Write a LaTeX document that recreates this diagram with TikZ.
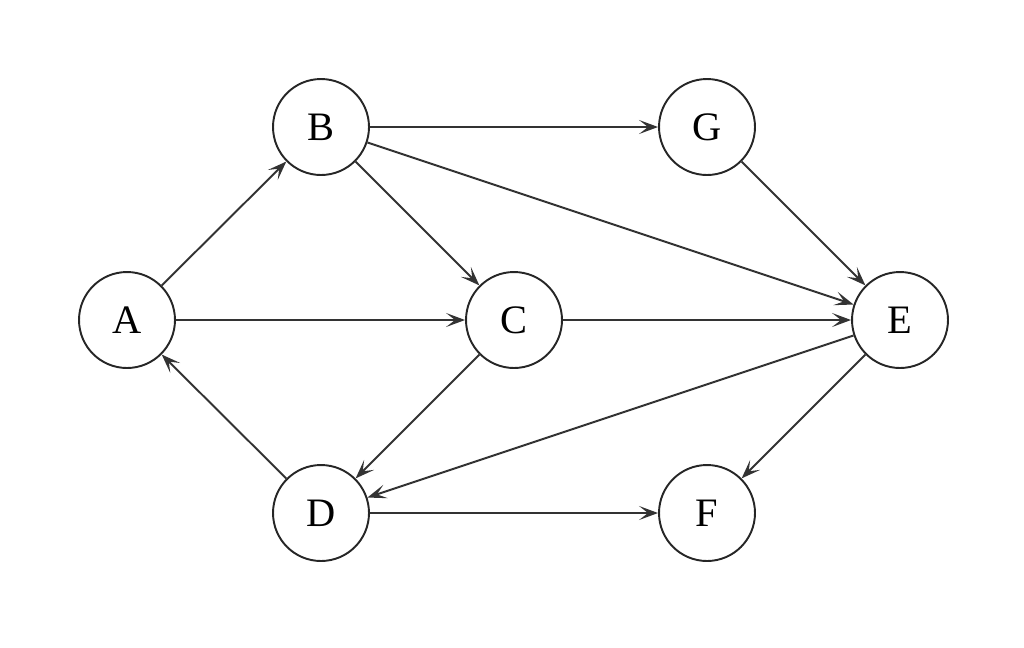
\documentclass[tikz,border=0pt]{standalone}
\usepackage{fontspec}
\setmainfont{Liberation Serif}
\usetikzlibrary{arrows.meta}
\begin{document}
\begin{tikzpicture}[x=0.02cm,y=-0.02cm,
  vertex/.style={circle,draw=black!85,line width=1.1pt,minimum size=1.92cm,inner sep=0pt,font=\fontsize{23}{27}\selectfont},
  edge/.style={draw=black!80,line width=1.1pt,-{Stealth[length=3.8mm,width=2.8mm,inset=1.8mm]}}]
\useasboundingbox (0,0) rectangle (1024,647);
\node[vertex] (A) at (127,320) {A};
\node[vertex] (B) at (321,127) {B};
\node[vertex] (G) at (707,127) {G};
\node[vertex] (C) at (514,320) {C};
\node[vertex] (E) at (900,320) {E};
\node[vertex] (D) at (321,513) {D};
\node[vertex] (F) at (707,513) {F};
\draw[edge] (A) -- (B);
\draw[edge] (B) -- (G);
\draw[edge] (B) -- (C);
\draw[edge] (B) -- (E);
\draw[edge] (G) -- (E);
\draw[edge] (A) -- (C);
\draw[edge] (C) -- (E);
\draw[edge] (C) -- (D);
\draw[edge] (E) -- (D);
\draw[edge] (E) -- (F);
\draw[edge] (D) -- (A);
\draw[edge] (D) -- (F);
\end{tikzpicture}
\end{document}
